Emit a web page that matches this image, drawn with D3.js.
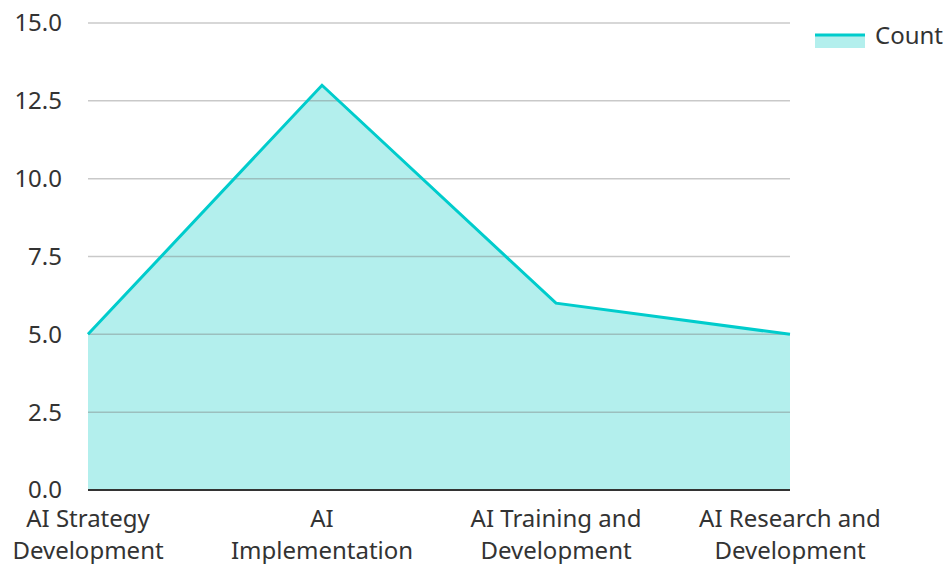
<!DOCTYPE html>
<html><head><meta charset="utf-8">
<script src="https://cdn.jsdelivr.net/npm/d3@7"></script>
<style>body{margin:0;background:#fff}svg{display:block;font-family:"Noto Sans",sans-serif}</style>
</head><body><svg id="c" width="948" height="564"></svg>
<script>
const categories = [["AI Strategy","Development"],["AI","Implementation"],["AI Training and","Development"],["AI Research and","Development"]];
const counts = [5, 13, 6, 5];
const yTicks = [0, 2.5, 5, 7.5, 10, 12.5, 15];
const seriesName = "Count";

(function(){
const svg = d3.select("#c");
const mL = 88, mR = 790, mT = 23, mB = 490;
const x = d3.scalePoint().domain(d3.range(categories.length)).range([mL, mR]);
const y = d3.scaleLinear().domain([0, 15]).range([mB, mT]);
const fs = 24;

svg.append("path").datum(counts)
  .attr("d", d3.area().x((d,i)=>x(i)).y0(y(0)).y1(d=>y(d)))
  .attr("fill", "#b3efed");

svg.append("g").selectAll("line").data(yTicks.filter(t=>t>0)).join("line")
  .attr("x1", mL).attr("x2", mR).attr("y1", d=>y(d)).attr("y2", d=>y(d))
  .attr("stroke", "rgba(120,120,120,0.4)").attr("stroke-width", 1.5);

svg.append("path").datum(counts)
  .attr("d", d3.line().x((d,i)=>x(i)).y(d=>y(d)))
  .attr("fill", "none").attr("stroke", "#00cccc").attr("stroke-width", 3).attr("stroke-linejoin","miter");

svg.append("line").attr("x1", mL).attr("x2", mR).attr("y1", y(0)).attr("y2", y(0))
  .attr("stroke", "#333").attr("stroke-width", 2);

svg.append("g").selectAll("text").data(yTicks).join("text")
  .attr("x", 62).attr("y", d=>y(d)).attr("dy", "0.35em").attr("text-anchor","end")
  .attr("font-size", fs).attr("fill", "#333").text(d=>d.toFixed(1));

const xl = svg.append("g").selectAll("text").data(categories).join("text")
  .attr("text-anchor","middle").attr("font-size", fs).attr("fill","#333");
xl.selectAll("tspan").data((d,i)=>d.map(s=>({s,i}))).join("tspan")
  .attr("x", d=>x(d.i)).attr("y", (d,j)=>527 + j*32).text(d=>d.s);

const lg = svg.append("g");
lg.append("rect").attr("x", 815).attr("y", 35).attr("width", 50).attr("height", 13).attr("fill", "#b3efed");
lg.append("line").attr("x1", 815).attr("x2", 865).attr("y1", 35).attr("y2", 35).attr("stroke", "#00cccc").attr("stroke-width", 3);
lg.append("text").attr("x", 875).attr("y", 36).attr("dy","0.35em").attr("font-size", fs).attr("fill","#333").text(seriesName);
})();
</script></body></html>
